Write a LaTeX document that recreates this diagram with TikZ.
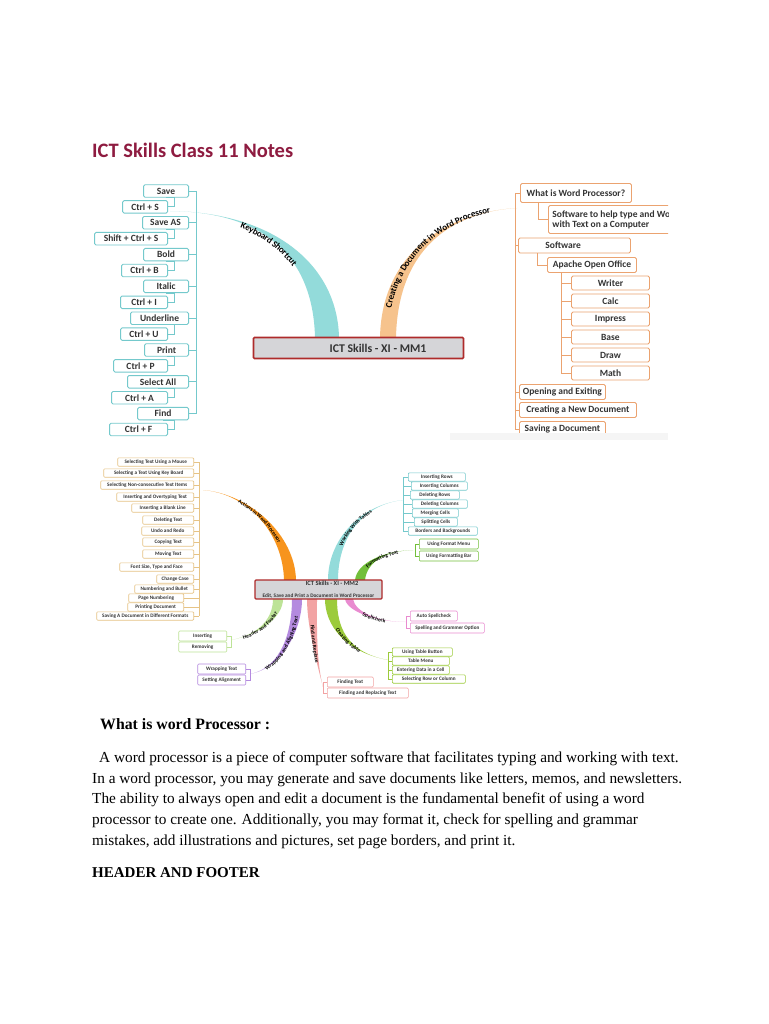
\documentclass[tikz,border=0pt]{standalone}
\usepackage{fontspec}
\setmainfont{Liberation Serif}
\newfontfamily\mmfont{Carlito}
\usetikzlibrary{calc, decorations.text}
\definecolor{titlered}{HTML}{8E1B40}
\definecolor{txtgray}{HTML}{333333}
\definecolor{keycyan}{HTML}{74C9CC}
\definecolor{bandcyan}{HTML}{93DBDA}
\definecolor{docorange}{HTML}{EBA370}
\definecolor{bandorange}{HTML}{F6C38D}
\definecolor{hubgray}{HTML}{D5D5D8}
\definecolor{hubred}{HTML}{AE2B2B}
\definecolor{actorange}{HTML}{F7941D}
\definecolor{acttan}{HTML}{E6C385}
\definecolor{fmtgreen}{HTML}{72BF3A}
\definecolor{spellpink}{HTML}{E98BD0}
\definecolor{tablelime}{HTML}{9CCB3B}
\definecolor{findsalmon}{HTML}{F2A3A3}
\definecolor{wrappurple}{HTML}{B48ADF}
\definecolor{hflight}{HTML}{BDE397}

\newcommand{\mmbig}{\mmfont\bfseries\fontsize{9.5}{10}\selectfont}
\newcommand{\mmsmall}{\mmfont\bfseries\fontsize{5.2}{5.6}\selectfont}
\newcommand{\bandtxt}{\mmfont\bfseries\fontsize{9}{9}\selectfont}
\newcommand{\bandtiny}{\mmfont\bfseries\fontsize{5.4}{5.4}\selectfont}
% tapered branch: colour, thin end, control 1, control 2, wide end, half width
\newcommand{\taper}[6]{%
  \fill[#1] (#2) .. controls (#3) and ($(#4)+(#6,0)$) .. ($(#5)+(#6,0)$)
    -- ($(#5)-(#6,0)$) .. controls ($(#4)-(#6,0)$) and (#3) .. (#2) -- cycle;}

\begin{document}
\begin{tikzpicture}[x=1pt, y=-1pt,
    key/.style={draw=keycyan, fill=white, line width=0.9pt, rounded corners=1.5pt,
      font=\mmbig, text=txtgray, inner sep=0pt, minimum height=12.5},
    doc/.style={key, draw=docorange, minimum height=15},
    app/.style={doc, minimum height=14, minimum width=78, anchor=west},
    hub/.style={draw=hubred, fill=hubgray, line width=1.6pt, rounded corners=1pt,
      text=txtgray, inner sep=1pt},
    leaf/.style={draw=#1, fill=white, line width=0.6pt, rounded corners=1pt,
      font=\mmsmall, text=txtgray, inner sep=0pt, minimum height=8.4},
    twig/.style={draw=#1, line width=0.6pt},
    bandlabel/.style={decorate, decoration={text along path, text align=center,
      raise=-2.5pt, text={#1}}},
    body/.style={anchor=base west, inner sep=0pt, font=\fontsize{15.3}{18}\selectfont}]

\useasboundingbox (0,0) rectangle (768,1024);
\fill[white] (0,0) rectangle (768,1024);

% title
\node[anchor=west, inner sep=0pt, text=titlered,
  font=\mmfont\bfseries\fontsize{20.5}{22}\selectfont] (title) at (92,150) {ICT Skills Class 11 Notes};

%% mind map 1
\begin{scope}
\clip (92,178) rectangle (668,440);
% branches
\taper{bandcyan}{170,211}{270,212}{325,262}{327,337}{12}
\path[bandlabel={|\bandtxt|Keyboard Shortcut}, decoration={raise=-7pt}]
  (196,212) .. controls (250,214) and (302,245) .. (320,305);
\taper{bandorange}{517,208}{450,212}{390,250}{388,337}{8}
\path[bandlabel={|\bandtxt|Creating a Document in Word Processor}]
  (386,336) .. controls (388,250) and (450,210) .. (518,207);

% centre
\node[hub, minimum width=210, minimum height=21, font=\mmfont\bfseries\fontsize{11.8}{12}\selectfont]
  (mm1) at (358.5,348) {\hspace*{39pt}ICT Skills - XI - MM1};

% keyboard shortcuts
\coordinate (kline) at (196,0);
\foreach \txt/\w [count=\n from 0] in {Save/45, Save AS/46, Bold/45, Italic/45,
    Underline/58, Print/44, Select All/61, Find/51}{
  \node[key, minimum width=\w, anchor=east] (kp\n) at (189,191+31.8*\n) {\txt};
  \draw[keycyan, line width=0.9pt] (kp\n.east) -- (kp\n.east -| kline);
}
\foreach \txt/\w [count=\n from 0] in {Ctrl + S/45, Shift + Ctrl + S/73, Ctrl + B/46,
    Ctrl + I/47, Ctrl + U/47, Ctrl + P/54, Ctrl + A/56, Ctrl + F/58}{
  \node[key, minimum width=\w, anchor=east] (kc\n) at (168,206.9+31.8*\n) {\txt};
  \draw[keycyan, line width=0.9pt] (kc\n.east) -- ++(6,0) |- (kp\n.south);
}
\draw[keycyan, line width=0.9pt] (kp0.east -| kline) -- (kp7.east -| kline);

% word processor
\coordinate (rline) at (515,0);
\node[doc, anchor=west, minimum width=111, minimum height=19] (wp) at (520,193) {What is Word Processor?};
\node[doc, anchor=west, minimum height=28, inner xsep=4pt, align=left]
  (wpd) at (548,219.5) {Software to help type and Work\\with Text on a Computer};
\node[doc, anchor=west, text width=104, inner xsep=4pt, align=left] (sw) at (518,245.5) {\hspace*{23pt}Software};
\node[doc, anchor=west, minimum width=89] (ao) at (547,265) {Apache Open Office};
\foreach \app [count=\n from 0] in {Writer, Calc, Impress, Base, Draw, Math}{
  \node[app] (app\n) at (571,283+18*\n) {\app};
  \draw[docorange, line width=0.9pt] (app\n.west) -- ++(-10,0);
}
\node[doc, anchor=west, minimum width=86] (oe) at (519,392) {Opening and Exiting};
\node[doc, anchor=west, minimum width=117] (cnd) at (519,410) {Creating a New Document};
\node[doc, anchor=west, minimum width=86] (sd) at (519,429) {Saving a Document};
\draw[docorange, line width=0.9pt] ([xshift=18pt]wp.south west) |- (wpd.west);
\draw[docorange, line width=0.9pt] ([xshift=19pt]sw.south west) |- (ao.west);
\draw[docorange, line width=0.9pt] ([xshift=14pt]ao.south west) |- (app5.west);
\foreach \b in {wp, sw, oe, cnd, sd}
  \draw[docorange, line width=0.9pt] (\b.west -| rline) -- (\b.west);
\draw[docorange, line width=0.9pt] (wp.west -| rline) -- (sd.west -| rline);
\fill[gray!8] (450,433) rectangle (668,440);
\end{scope}

%% mind map 2
% branches
\taper{actorange}{203,490}{250,494}{289,535}{290,580}{6}
\path[bandlabel={|\bandtiny|Actions in Word Processor}] (203,490) .. controls (250,494) and (289,535) .. (290,578);
\taper{bandcyan}{403,500}{360,505}{333,540}{333,580}{5}
\path[bandlabel={|\bandtiny|Working With Tables}] (333,578) .. controls (333,540) and (360,505) .. (403,500);
\taper{fmtgreen}{413,550}{385,551}{362,562}{360,580}{5}
\path[bandlabel={|\bandtiny|Formatting Text}] (360,580) .. controls (362,562) and (385,551) .. (413,550);
\taper{spellpink}{406,622}{378,622}{351,612}{349,599}{4}
\path[bandlabel={|\bandtiny|Spellcheck}] (349,600) .. controls (351,612) and (378,622) .. (406,622);
\taper{tablelime}{388,660}{345,652}{331,625}{331,599}{6}
\path[bandlabel={|\bandtiny|Creating Table}] (331,600) .. controls (331,625) and (345,652) .. (388,660);
\taper{findsalmon}{323,687}{316,660}{312,625}{312,599}{5}
\path[bandlabel={|\bandtiny|Find and Replace}] (312,600) .. controls (312,625) and (316,660) .. (323,687);
\taper{wrappurple}{250,674}{282,668}{297,630}{297,599}{5}
\path[bandlabel={|\bandtiny|Wrapping and Aligning Text}] (250,674) .. controls (282,668) and (297,630) .. (297,600);
\taper{hflight}{231,640}{262,634}{278,616}{278,599}{5}
\path[bandlabel={|\bandtiny|Header and Footer}] (231,640) .. controls (262,634) and (278,616) .. (278,600);

% centre
\node[hub, line width=1.2pt, minimum width=127, minimum height=19, align=center, inner sep=0.5pt]
  (mm2) at (318.5,589.5) {\mmfont\bfseries\fontsize{6.4}{7}\selectfont\hspace*{27pt}ICT Skills - XI - MM2\\
  \mmfont\bfseries\fontsize{5.3}{6.5}\selectfont Edit, Save and Print a Document in Word Processor};

% actions
\coordinate (actline) at (199,0);
\foreach \txt/\w/\x/\y [count=\n] in {Selecting Text Using a Mouse/76/194/462,
    Selecting a Text Using Key Board/90/194/473, Selecting Non-consecutive Text Items/93/194/485,
    Inserting and Overtyping Text/77/194/497, Inserting a Blank Line/62/194/508,
    Deleting Text/51/194/520, Undo and Redo/52/194/531, Copying Text/51/194/542,
    Moving Text/51/194/554, {Font Size, Type and Face}/74/194/567, Change Case/37/194/579,
    Numbering and Bullet/59/194/589, Page Numbering/55/184/598, Printing Document/56/184/607,
    Saving A Document in Different Formats/97/194/616}{
  \node[leaf=acttan, minimum width=\w, anchor=east] (act\n) at (\x,\y) {\txt};
  \draw[twig=acttan] (act\n.east) -- (act\n.east -| actline);
}
\draw[twig=acttan] (act1.east -| actline) -- (act15.east -| actline);

% tables
\coordinate (tabline) at (403,0);
\foreach \txt/\x/\w/\y [count=\n] in {Inserting Rows/408/57/477, Inserting Columns/411/56/486,
    Deleting Rows/410/49/495, Deleting Columns/412/55/504, Merging Cells/412/46/513,
    Splitting Cells/414/43/522, Borders and Backgrounds/408/69/531}{
  \node[leaf=keycyan, minimum width=\w, anchor=west] (tab\n) at (\x,\y) {\txt};
  \draw[twig=keycyan] (tab\n.west) -- (tab\n.west -| tabline);
}
\draw[twig=keycyan] (tab1.west -| tabline) -- (tab7.west -| tabline);

% small groups
\coordinate (fmtline) at (415,0);
\coordinate (spline) at (406,0);
\coordinate (ctline) at (388,0);
\coordinate (fdline) at (323,0);
\coordinate (wrline) at (250,0);
\coordinate (hfline) at (231,0);
\node[leaf=fmtgreen, minimum width=59, minimum height=10, anchor=west] (fmt1) at (419,544) {Using Format Menu};
\node[leaf=fmtgreen, minimum width=59, minimum height=10, anchor=west] (fmt2) at (419,556) {Using Formatting Bar};
\node[leaf=spellpink, minimum width=47, minimum height=10, anchor=west] (sp1) at (410,616) {Auto Spellcheck};
\node[leaf=spellpink, minimum width=74, minimum height=10, anchor=west] (sp2) at (410,628) {Spelling and Grammer Option};
\node[leaf=tablelime, minimum width=60, anchor=west] (ct1) at (392,652) {Using Table Button};
\node[leaf=tablelime, minimum width=57, anchor=west] (ct2) at (392,661) {Table Menu};
\node[leaf=tablelime, minimum width=57, anchor=west] (ct3) at (392,670) {Entering Data in a Cell};
\node[leaf=tablelime, minimum width=73, anchor=west] (ct4) at (392,679) {Selecting Row or Column};
\node[leaf=findsalmon, minimum width=46, minimum height=10, anchor=west] (fd1) at (327,682) {Finding Text};
\node[leaf=findsalmon, minimum width=81, minimum height=10, anchor=west] (fd2) at (327,693) {Finding and Replacing Text};
\node[leaf=wrappurple, minimum width=48, minimum height=10, anchor=east] (wr1) at (246,669) {Wrapping Text};
\node[leaf=wrappurple, minimum width=48, minimum height=10, anchor=east] (wr2) at (246,680) {Setting Alignment};
\node[leaf=hflight, minimum width=48, minimum height=10, anchor=east] (hf1) at (227,636) {Inserting};
\node[leaf=hflight, minimum width=48, minimum height=10, anchor=east] (hf2) at (227,647) {Removing};
\foreach \a/\b/\l/\c in {fmt1/fmt2/fmtline/fmtgreen, sp1/sp2/spline/spellpink,
    fd1/fd2/fdline/findsalmon}{
  \draw[twig=\c] (\a.west) -| (\l |- \b.west) -- (\b.west);
}
\draw[twig=tablelime] (ct1.west) -| (ctline |- ct4.west) -- (ct4.west);
\foreach \n in {2,3}
  \draw[twig=tablelime] (ct\n.west) -- (ct\n.west -| ctline);
\draw[twig=wrappurple] (wr1.east) -| (wrline |- wr2.east) -- (wr2.east);
\draw[twig=hflight] (hf1.east) -| (hfline |- hf2.east) -- (hf2.east);

%% text
\node[body, font=\bfseries\fontsize{15.8}{18}\selectfont] (h1) at (100,729) {What is word Processor :};
\node[body] (p1) at (99,762) {A word processor is a piece of computer software that facilitates typing and working with text.};
\node[body] (p2) at (92,783) {In a word processor, you may generate and save documents like letters, memos, and newsletters.};
\node[body] (p3) at (92,803.5) {The ability to always open and edit a document is the fundamental benefit of using a word};
\node[body] (p4) at (92,824) {processor to create one. Additionally, you may format it, check for spelling and grammar};
\node[body] (p5) at (92,845) {mistakes, add illustrations and pictures, set page borders, and print it.};
\node[body, font=\bfseries\fontsize{15}{18}\selectfont] (h2) at (92,877) {HEADER AND FOOTER};
\end{tikzpicture}
\end{document}
